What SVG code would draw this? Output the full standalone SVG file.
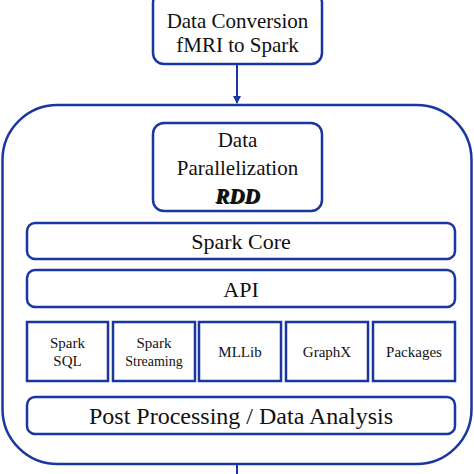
<svg xmlns="http://www.w3.org/2000/svg" width="474" height="474" viewBox="0 0 474 474">
<style>
.b{fill:#fff;stroke:#1a36a0;stroke-width:2.5}
.t{font-family:'Liberation Serif','Times New Roman',Times,'DejaVu Serif',serif;fill:#111;text-anchor:middle}
.l{stroke:#1a36a0;stroke-width:2;fill:none}
</style>
<defs>
<marker id="ah" markerWidth="8" markerHeight="8" refX="7" refY="4" orient="auto" markerUnits="userSpaceOnUse">
<path d="M0,0 L8,4 L0,8 Z" fill="#1a36a0"/>
</marker>
</defs>
<rect width="474" height="474" fill="#fff"/>
<g id="platform"><rect class="b" x="2.5" y="105" width="469" height="359" rx="55"/></g>
<g id="connectors">
<line class="l" x1="237" y1="64" x2="237" y2="103" marker-end="url(#ah)"/>
<line class="l" x1="237" y1="464" x2="237" y2="474"/>
</g>
<g id="conversion"><rect class="b" x="153" y="-8" width="169" height="72" rx="11"/>
<text class="t" x="237.5" y="28" font-size="21">Data Conversion</text>
<text class="t" x="237.5" y="52" font-size="21">fMRI to Spark</text></g>
<g id="parallel"><rect class="b" x="153" y="123" width="169" height="88" rx="11"/>
<text class="t" x="237.5" y="147" font-size="21">Data</text>
<text class="t" x="237.5" y="175" font-size="21">Parallelization</text>
<text class="t" x="238.5" y="204" font-size="21" font-weight="bold" font-style="italic" fill="#999">RDD</text>
<text class="t" x="237.5" y="203" font-size="21" font-weight="bold" font-style="italic">RDD</text></g>
<g id="core"><rect class="b" x="27" y="223" width="428" height="36" rx="8"/>
<text class="t" x="241" y="249" font-size="22">Spark Core</text></g>
<g id="api"><rect class="b" x="27" y="270" width="428" height="37" rx="8"/>
<text class="t" x="241" y="297" font-size="22">API</text></g>
<g id="sql"><rect class="b" x="27" y="322" width="81" height="59"/>
<text class="t" x="67.5" y="348" font-size="15">Spark</text>
<text class="t" x="67.5" y="366" font-size="15">SQL</text></g>
<g id="streaming"><rect class="b" x="113" y="322" width="82" height="59"/>
<text class="t" x="154" y="348" font-size="15">Spark</text>
<text class="t" x="154" y="366" font-size="14">Streaming</text></g>
<g id="mllib"><rect class="b" x="199" y="322" width="82" height="59"/>
<text class="t" x="240" y="357" font-size="15">MLLib</text></g>
<g id="graphx"><rect class="b" x="286" y="322" width="82" height="59"/>
<text class="t" x="327" y="357" font-size="15">GraphX</text></g>
<g id="packages"><rect class="b" x="373" y="322" width="82" height="59"/>
<text class="t" x="414" y="357" font-size="15">Packages</text></g>
<g id="post"><rect class="b" x="27" y="397" width="428" height="37" rx="8"/>
<text class="t" x="241" y="424" font-size="24">Post Processing / Data Analysis</text></g>
</svg>
